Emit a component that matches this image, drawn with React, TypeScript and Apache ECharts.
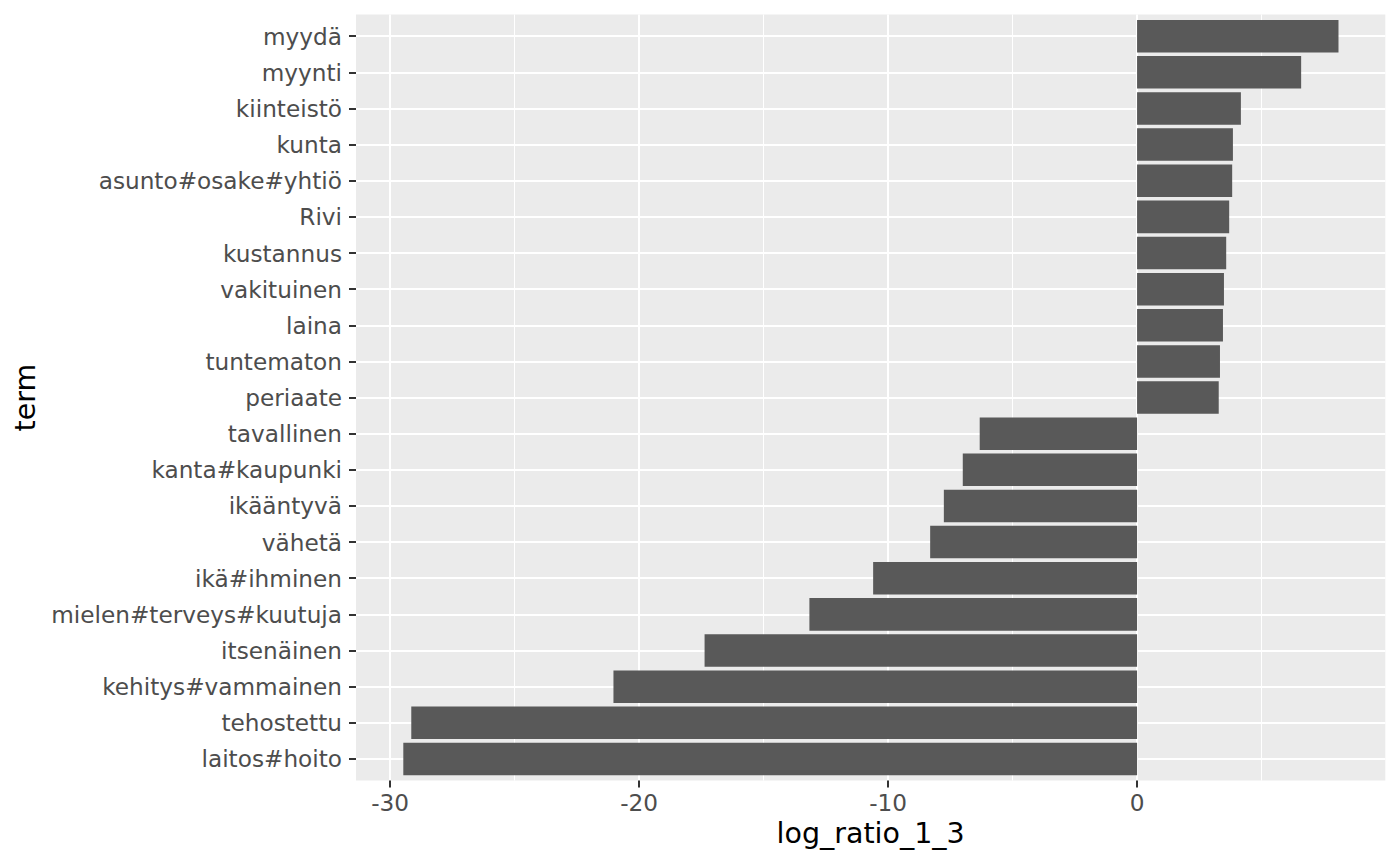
import React, { useEffect, useRef } from "react";
import * as echarts from "echarts";

const terms = [
  "myydä",
  "myynti",
  "kiinteistö",
  "kunta",
  "asunto#osake#yhtiö",
  "Rivi",
  "kustannus",
  "vakituinen",
  "laina",
  "tuntematon",
  "periaate",
  "tavallinen",
  "kanta#kaupunki",
  "ikääntyvä",
  "vähetä",
  "ikä#ihminen",
  "mielen#terveys#kuutuja",
  "itsenäinen",
  "kehitys#vammainen",
  "tehostettu",
  "laitos#hoito",
];

const logRatio = [
  8.09, 6.59, 4.17, 3.85, 3.82, 3.7, 3.58, 3.49, 3.45, 3.33, 3.28, -6.32, -7.0,
  -7.76, -8.31, -10.6, -13.16, -17.37, -21.03, -29.15, -29.47,
];

const xTicks = [-30, -20, -10, 0];
const xMin = -31.37;
const xMax = 9.97;

const FONT = "DejaVu Sans";

export default function App() {
  const ref = useRef<HTMLDivElement>(null);

  useEffect(() => {
    document.body.style.margin = "0";
    if (!ref.current) return;
    const chart = echarts.init(ref.current, null, { renderer: "svg" });
    const yIdx = terms.map((_, i) => i);
    const option: any = {
      animation: false,
      backgroundColor: "#FFFFFF",
      grid: {
        left: 356,
        top: 14.5,
        width: 1029.3,
        height: 766.1,
        show: true,
        backgroundColor: "#EBEBEB",
        borderWidth: 0,
        containLabel: false,
        outerBoundsMode: "none",
      },
      xAxis: {
        type: "value",
        position: "bottom",
        min: xMin,
        max: xMax,
        minInterval: 10,
        maxInterval: 10,
        name: "log_ratio_1_3",
        nameLocation: "middle",
        nameGap: 38,
        nameTextStyle: { fontFamily: FONT, fontSize: 28.5, color: "#000000" },
        axisLine: { show: false, onZero: false },
        axisTick: {
          show: true,
          customValues: xTicks,
          length: 7,
          lineStyle: { color: "#333333", width: 2 },
        },
        axisLabel: {
          show: true,
          customValues: xTicks,
          margin: 10,
          fontFamily: FONT,
          fontSize: 23.2,
          color: "#4D4D4D",
        },
        splitLine: { show: true, lineStyle: { color: "#FFFFFF", width: 2 } },
        minorTick: { show: false, splitNumber: 2 },
        minorSplitLine: {
          show: true,
          lineStyle: { color: "#FFFFFF", width: 1 },
        },
      },
      yAxis: {
        type: "value",
        position: "left",
        inverse: true,
        min: -0.6,
        max: 20.6,
        minInterval: 1,
        maxInterval: 1,
        name: "term",
        nameLocation: "middle",
        nameGap: 309,
        nameRotate: 90,
        nameTextStyle: { fontFamily: FONT, fontSize: 28.5, color: "#000000" },
        axisLine: { show: false, onZero: false },
        axisTick: {
          show: true,
          customValues: yIdx,
          length: 7,
          lineStyle: { color: "#333333", width: 2 },
        },
        axisLabel: {
          show: true,
          customValues: yIdx,
          margin: 14,
          fontFamily: FONT,
          fontSize: 23.2,
          color: "#4D4D4D",
          formatter: (v: number) => terms[Math.round(v)] ?? "",
        },
        splitLine: { show: true, lineStyle: { color: "#FFFFFF", width: 2 } },
      },
      series: [
        {
          type: "custom",
          name: "log_ratio_1_3",
          data: logRatio.map((v, i) => [v, i]),
          encode: { x: 0, y: 1 },
          renderItem: (params: any, api: any) => {
            const v = api.value(0);
            const i = api.value(1);
            const p0 = api.coord([0, i - 0.45]);
            const p1 = api.coord([v, i + 0.45]);
            return {
              type: "rect",
              shape: {
                x: Math.min(p0[0], p1[0]),
                y: Math.min(p0[1], p1[1]),
                width: Math.abs(p1[0] - p0[0]),
                height: Math.abs(p1[1] - p0[1]),
              },
              style: { fill: "#595959" },
            };
          },
        },
      ],
    };
    chart.setOption(option);
    return () => chart.dispose();
  }, []);

  return <div ref={ref} style={{ width: 1400, height: 865 }} />;
}
